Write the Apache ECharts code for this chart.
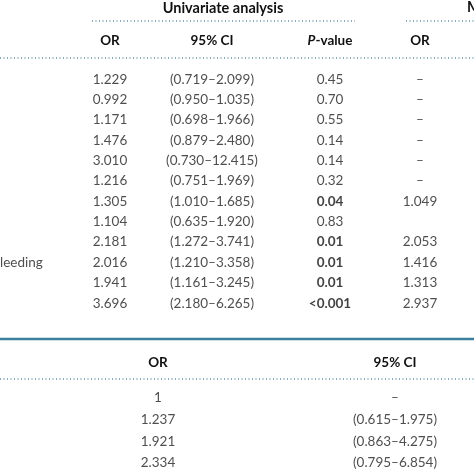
<!DOCTYPE html><html><head><meta charset="utf-8"><script src="https://cdn.jsdelivr.net/npm/echarts@6/dist/echarts.min.js"></script>
<style>html,body{margin:0;background:#fff}#c{width:474px;height:474px}</style></head><body><div id="c"></div><script>
const uniOR=['1.229','0.992','1.171','1.476','3.010','1.216','1.305','1.104','2.181','2.016','1.941','3.696'];
const uniCI=['(0.719–2.099)','(0.950–1.035)','(0.698–1.966)','(0.879–2.480)','(0.730–12.415)','(0.751–1.969)','(1.010–1.685)','(0.635–1.920)','(1.272–3.741)','(1.210–3.358)','(1.161–3.245)','(2.180–6.265)'];
const uniP=['0.45','0.70','0.55','0.14','0.14','0.32','0.04','0.83','0.01','0.01','0.01','<0.001'];
const uniPBold=[0,0,0,0,0,0,1,0,1,1,1,1];
const multiOR=['–','–','–','–','–','–','1.049','','2.053','1.416','1.313','2.937'];
const rowLabels=['','','','','','','','','','leeding','',''];
const lowOR=['1','1.237','1.921','2.334'];
const lowCI=['–','(0.615–1.975)','(0.863–4.275)','(0.795–6.854)'];
const headTitle='Univariate analysis';
const upHeaders=['OR','95% CI','P-value','OR'];
const lowHeaders=['OR','95% CI'];

const FONT='Lato';
const FS=13.5;
const upCols=[110,212,330,420];
const lowCols=[158,395];
function mk(vals,col,gi,bolds,align){
  return {type:'scatter',xAxisIndex:gi,yAxisIndex:gi,symbolSize:0,silent:true,
    data:vals.map((v,i)=>({value:[col,i],label:{show:true,position:'inside',align:align||'center',
      formatter:v===''?' ':(bolds&&bolds[i]?'{b|'+v+'}':v),
      color:'#222',fontFamily:FONT,fontSize:FS,rich:{b:{fontWeight:'bold',fontFamily:FONT,fontSize:FS,color:'#111'}}}}))};
}
const upCats=uniOR.map((_,i)=>'r'+i), lowCats=lowOR.map((_,i)=>'r'+i);
const ax=(cats)=>({type:'category',data:cats,inverse:true,show:false});
const xa={type:'value',min:0,max:474,show:false};
const dot={stroke:'#5f8ea3',lineWidth:1.3,lineDash:[1,2.5]};
const opt={animation:false,
 grid:[{left:0,right:0,top:69,height:244.4},{left:0,right:0,top:387,height:89.3}],
 xAxis:[Object.assign({gridIndex:0},xa),Object.assign({gridIndex:1},xa)],
 yAxis:[Object.assign({gridIndex:0},ax(upCats)),Object.assign({gridIndex:1},ax(lowCats))],
 series:[mk(uniOR,upCols[0],0),mk(uniCI,upCols[1],0),mk(uniP,upCols[2],0,uniPBold),mk(multiOR,upCols[3],0),
   mk(rowLabels,0,0,null,'left'),mk(lowOR,lowCols[0],1),mk(lowCI,lowCols[1],1)],
 graphic:[
  {type:'text',x:223,y:8,style:{text:headTitle,font:'bold 14.5px '+FONT,fill:'#111',textAlign:'center',textVerticalAlign:'middle'}},
  {type:'text',left:467,top:0,style:{text:'M',font:'bold 14.5px '+FONT,fill:'#111'}},
  {type:'line',shape:{x1:92,y1:21,x2:355,y2:21},style:dot},
  {type:'line',shape:{x1:406,y1:21,x2:474,y2:21},style:dot},
  {type:'line',shape:{x1:0,y1:58,x2:474,y2:58},style:dot},
  {type:'line',shape:{x1:0,y1:339,x2:474,y2:339},style:{stroke:'#3a7f9e',lineWidth:2.5}},
  {type:'line',shape:{x1:0,y1:379,x2:474,y2:379},style:dot},
  ...upHeaders.map((h,i)=>({type:'text',x:upCols[i],y:41,style:{text:h==='P-value'?'{i|P}-value':h,rich:{i:{fontStyle:'italic',fontWeight:'bold',fontFamily:FONT,fontSize:FS}},font:'bold '+FS+'px '+FONT,fill:'#111',textAlign:'center',textVerticalAlign:'middle'}})),
  ...lowHeaders.map((h,i)=>({type:'text',x:lowCols[i],y:363,style:{text:h,font:'bold '+FS+'px '+FONT,fill:'#111',textAlign:'center',textVerticalAlign:'middle'}}))
 ]};
echarts.init(document.getElementById('c')).setOption(opt);
</script></body></html>
